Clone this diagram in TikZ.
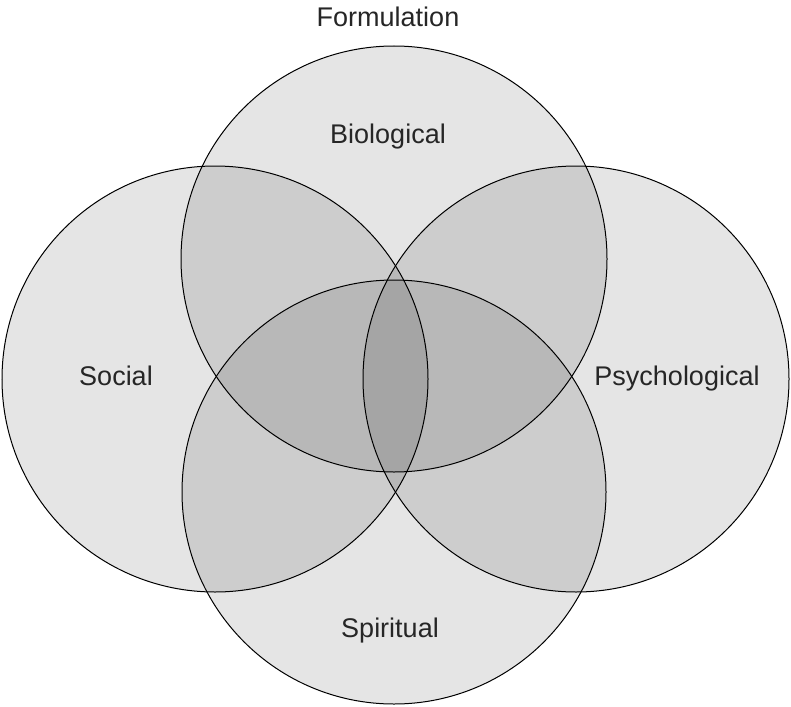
\documentclass[tikz,border=0pt]{standalone}
\usepackage{fontspec}
\setmainfont{Liberation Sans}
\begin{document}
\begin{tikzpicture}[x=1pt,y=-1pt,
  circ/.style={draw=black,line width=1pt,fill=black,fill opacity=0.1},
  lab/.style={font=\fontsize{27}{30}\selectfont,text=black!85}]
\useasboundingbox[fill=white] (0,0) rectangle (791,706);
\path[circ] (394,259) circle[radius=213] coordinate (bio);
\path[circ] (215,379) circle[radius=213] coordinate (soc);
\path[circ] (576,379) circle[radius=213] coordinate (psy);
\path[circ] (394,492) circle[radius=212] coordinate (spi);
\node[lab] (f) at (388,17) {Formulation};
\node[lab] (b) at (388,137) {Biological};
\node[lab] (s) at (116,376) {Social};
\node[lab] (p) at (677,379) {Psychological};
\node[lab] (sp) at (390,631) {Spiritual};
\end{tikzpicture}
\end{document}
